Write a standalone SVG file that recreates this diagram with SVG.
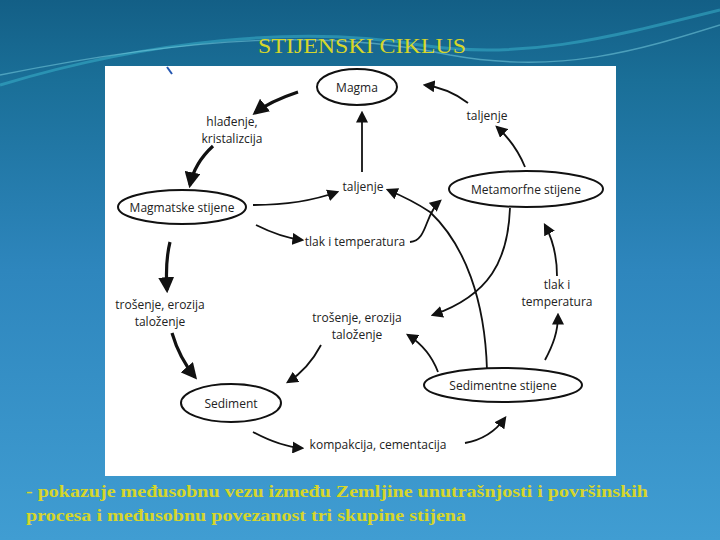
<svg xmlns="http://www.w3.org/2000/svg" width="720" height="540" viewBox="0 0 720 540">
<defs>
<linearGradient id="bg" x1="0" y1="0" x2="0" y2="1">
<stop offset="0" stop-color="#135f86"/><stop offset="0.15" stop-color="#1a6f98"/><stop offset="0.5" stop-color="#2e86bd"/><stop offset="1" stop-color="#409dd2"/>
</linearGradient>
<marker id="ah" viewBox="0 0 10 10" refX="8" refY="5" markerWidth="12" markerHeight="12" markerUnits="userSpaceOnUse" orient="auto"><path d="M0,0 L10,5 L0,10 z" fill="#111"/></marker>
<marker id="ahb" viewBox="0 0 10 10" refX="8" refY="5" markerWidth="16" markerHeight="16" markerUnits="userSpaceOnUse" orient="auto"><path d="M0,0 L10,5 L0,10 z" fill="#111"/></marker>
</defs>
<style>
.n{fill:#fff;stroke:#111;stroke-width:2}
.t{font-family:"Open Sans","DejaVu Sans",sans-serif;font-size:12px;fill:#222;text-anchor:middle}
.a{fill:none;stroke:#111;stroke-width:1.8;marker-end:url(#ah)}
.b{fill:none;stroke:#111;stroke-width:3.2;marker-end:url(#ahb)}
.y{font-family:"Liberation Serif",serif;fill:#d6d62a;font-weight:bold}
.ti{font-family:"Liberation Serif",serif;fill:#d6d62a;font-weight:normal}
</style>
<rect width="720" height="540" fill="url(#bg)"/>
<path d="M0,85 C150,40 300,25 420,45 C520,60 600,40 720,10" fill="none" stroke="#3cb7d0" stroke-width="3" opacity="0.5"/>
<path d="M0,75 C200,35 330,30 450,55 C560,75 640,50 720,25" fill="none" stroke="#7fd6e6" stroke-width="1.5" opacity="0.5"/>
<text class="ti" x="362" y="53" font-size="21" text-anchor="middle" textLength="208" lengthAdjust="spacingAndGlyphs">STIJENSKI CIKLUS</text>
<rect x="105" y="66" width="511" height="410" fill="#fff"/>
<path d="M167,67 L172,74" stroke="#2456b0" stroke-width="2"/>
<g id="connectors">
<path class="b" d="M298,92 C280,98 265,105 255,113"/>
<path class="b" d="M213,146 C200,158 193,170 190,185"/>
<path class="a" d="M362,172 L362,113"/>
<path class="a" d="M253,205 C285,205 315,200 337,192"/>
<path class="a" d="M256,225 C270,232 285,238 302,240"/>
<path class="a" d="M410,242 C428,240 424,215 440,201"/>
<path class="a" d="M487,370 C485,300 465,245 430,212 C415,202 400,195 388,190"/>
<path class="a" d="M510,208 C508,260 490,295 433,315"/>
<path class="a" d="M525,167 C518,150 508,137 497,127"/>
<path class="a" d="M468,103 C455,93 440,87 425,85"/>
<path class="a" d="M545,360 C553,345 558,332 558,315"/>
<path class="a" d="M557,276 C557,258 553,240 545,225"/>
<path class="a" d="M438,372 C432,356 422,344 408,335"/>
<path class="a" d="M321,345 C312,362 302,373 288,382"/>
<path class="b" d="M172,333 C177,350 185,365 195,377"/>
<path class="b" d="M170,242 C166,258 166,275 167,290"/>
<path class="a" d="M253,432 C268,440 285,447 302,448"/>
<path class="a" d="M465,443 C482,440 495,432 505,418"/>
</g>
<g id="magma"><ellipse class="n" cx="357" cy="87" rx="40" ry="18"/><text class="t" x="357" y="92">Magma</text></g>
<g id="magmatske"><ellipse class="n" cx="182" cy="207" rx="64" ry="17"/><text class="t" x="182" y="212">Magmatske stijene</text></g>
<g id="metamorfne"><ellipse class="n" cx="526" cy="189" rx="77" ry="18"/><text class="t" x="526" y="194">Metamorfne stijene</text></g>
<g id="sediment"><ellipse class="n" cx="231" cy="403" rx="50" ry="19"/><text class="t" x="231" y="408">Sediment</text></g>
<g id="sedimentne"><ellipse class="n" cx="503" cy="385" rx="79" ry="17"/><text class="t" x="503" y="390">Sedimentne stijene</text></g>
<g id="labels">
<text class="t" x="232" y="126">hlađenje,</text><text class="t" x="232" y="143">kristalizcija</text>
<text class="t" x="363" y="191">taljenje</text>
<text class="t" x="487" y="120">taljenje</text>
<text class="t" x="355" y="246">tlak i temperatura</text>
<text class="t" x="160" y="309">trošenje, erozija</text><text class="t" x="160" y="326">taloženje</text>
<text class="t" x="357" y="322">trošenje, erozija</text><text class="t" x="357" y="339">taloženje</text>
<text class="t" x="557" y="289">tlak i</text><text class="t" x="557" y="306">temperatura</text>
<text class="t" x="378" y="449">kompakcija, cementacija</text>
</g>
<text class="y" x="26" y="497" font-size="17" textLength="622" lengthAdjust="spacingAndGlyphs">- pokazuje međusobnu vezu između Zemljine unutrašnjosti i površinskih</text>
<text class="y" x="26" y="521" font-size="17" textLength="440" lengthAdjust="spacingAndGlyphs">procesa i međusobnu povezanost tri skupine stijena</text>
</svg>
